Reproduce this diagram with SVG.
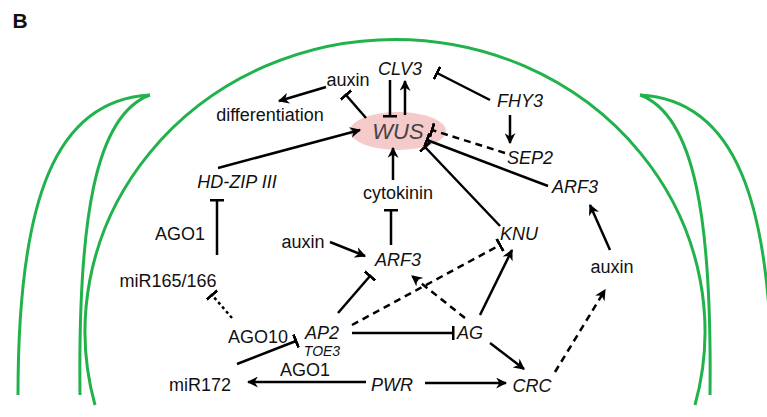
<svg xmlns="http://www.w3.org/2000/svg" width="767" height="417" viewBox="0 0 767 417">
<defs>
<marker id="ar" viewBox="0 0 10 10" refX="9" refY="5" markerWidth="11" markerHeight="11" markerUnits="userSpaceOnUse" orient="auto"><path d="M0,0 L10,5 L0,10 L3,5 z" fill="#000"/></marker>
<marker id="tb" viewBox="0 0 3 14" refX="1.5" refY="7" markerWidth="3" markerHeight="14" markerUnits="userSpaceOnUse" orient="auto"><rect x="0" y="0" width="3" height="14" fill="#000"/></marker>
</defs>
<style>
text{font-family:"Liberation Sans",Arial,sans-serif;font-size:18px;fill:#111;text-anchor:middle}
.i{font-style:italic}
.g{fill:none;stroke:#22b24c;stroke-width:3}
.l{fill:none;stroke:#000;stroke-width:2.5}
.a{marker-end:url(#ar)}
.t{marker-end:url(#tb)}
.d{stroke-dasharray:7,5}
</style>
<rect width="767" height="417" fill="#fff"/>
<text x="20" y="28" style="font-weight:bold;font-size:21px">B</text>
<g id="meristem">
<path class="g" d="M95,405 A310,292 0 1 1 695,405"/>
<path class="g" d="M150,95 C55,100 18,200 18,395 M150,95 C95,115 78,220 80,395"/>
<path class="g" d="M640,95 C735,100 772,200 772,395 M640,95 C695,115 712,220 710,395"/>
</g>
<g id="WUS"><ellipse cx="398" cy="131" rx="48" ry="19" fill="#f4caca"/><text class="i" x="398" y="139" style="font-size:22px;fill:#444">WUS</text></g>
<g id="connectors">
<line class="l a" x1="326" y1="87" x2="279" y2="101"/>
<line class="l t" x1="366" y1="118" x2="346" y2="95"/>
<line class="l t" x1="390" y1="80" x2="390" y2="116"/>
<line class="l a" x1="405" y1="115" x2="405" y2="81"/>
<line class="l t" x1="490" y1="100" x2="437" y2="73"/>
<line class="l a" x1="510" y1="115" x2="510" y2="143"/>
<line class="l t d" x1="505" y1="153" x2="432" y2="130"/>
<line class="l t" x1="548" y1="186" x2="427" y2="140"/>
<line class="l t" x1="500" y1="226" x2="425" y2="147"/>
<line class="l a" x1="218" y1="168" x2="360" y2="130"/>
<line class="l a" x1="393" y1="180" x2="393" y2="148"/>
<line class="l t" x1="391" y1="245" x2="391" y2="210"/>
<line class="l t" x1="217" y1="255" x2="217" y2="200"/>
<line class="l t" x1="232" y1="318" x2="212" y2="295" stroke-dasharray="3,3"/>
<line class="l a" x1="330" y1="242" x2="365" y2="256"/>
<line class="l t" x1="338" y1="313" x2="370" y2="276"/>
<line class="l t d" x1="352" y1="325" x2="500" y2="245"/>
<line class="l a" x1="480" y1="315" x2="512" y2="250"/>
<line class="l a d" x1="465" y1="318" x2="412" y2="276"/>
<line class="l t" x1="352" y1="333" x2="453" y2="333" stroke-width="3"/>
<line class="l t" x1="237" y1="364" x2="296" y2="341"/>
<line class="l a" x1="490" y1="343" x2="524" y2="369"/>
<line class="l a" x1="366" y1="382" x2="248" y2="382"/>
<line class="l a" x1="425" y1="383" x2="506" y2="383"/>
<line class="l a d" x1="555" y1="372" x2="605" y2="290"/>
<line class="l a" x1="610" y1="250" x2="590" y2="205"/>
</g>
<g id="CLV3"><text class="i" x="400" y="75">CLV3</text></g>
<g id="auxin1"><text x="348" y="86">auxin</text></g>
<g id="differentiation"><text x="270" y="121">differentiation</text></g>
<g id="FHY3"><text class="i" x="520" y="107">FHY3</text></g>
<g id="SEP2"><text class="i" x="530" y="164">SEP2</text></g>
<g id="HDZIP"><text class="i" x="237" y="188">HD-ZIP III</text></g>
<g id="ARF3r"><text class="i" x="575" y="193">ARF3</text></g>
<g id="cytokinin"><text x="398" y="199">cytokinin</text></g>
<g id="AGO1a"><text x="180" y="240">AGO1</text></g>
<g id="auxin2"><text x="303" y="248">auxin</text></g>
<g id="ARF3m"><text class="i" x="398" y="266">ARF3</text></g>
<g id="KNU"><text class="i" x="519" y="240">KNU</text></g>
<g id="miR165"><text x="168" y="287">miR165/166</text></g>
<g id="auxin3"><text x="612" y="273">auxin</text></g>
<g id="AGO10"><text x="258" y="343">AGO10</text></g>
<g id="AP2"><text class="i" x="322" y="339">AP2</text><text class="i" x="322" y="356" style="font-size:14px">TOE3</text></g>
<g id="AG"><text class="i" x="470" y="339">AG</text></g>
<g id="miR172"><text x="200" y="391">miR172</text></g>
<g id="AGO1b"><text x="305" y="376">AGO1</text></g>
<g id="PWR"><text class="i" x="392" y="391">PWR</text></g>
<g id="CRC"><text class="i" x="532" y="392">CRC</text></g>
</svg>
